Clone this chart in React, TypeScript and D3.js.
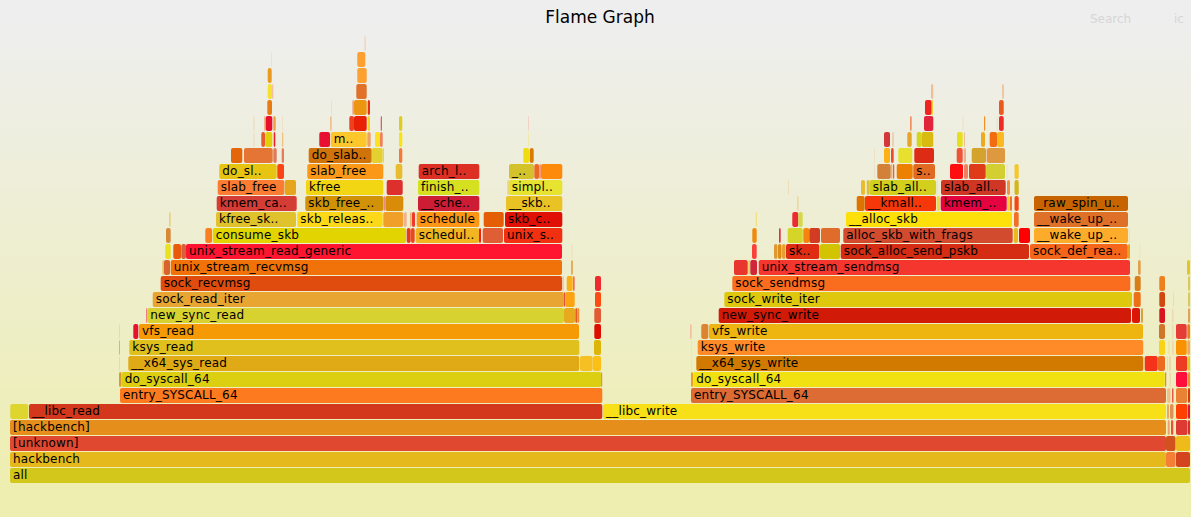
import React, { useEffect, useRef } from "react";
import * as d3 from "d3";

// [name, first sample, sample count]
type Frame = [string, number, number];

const totalSamples = 1180;

const depth0: Frame[] = [["all", 0, 1180]];
const depth1: Frame[] = [["hackbench", 0, 1156], ["", 1156, 9.5], ["", 1166, 14]];
const depth2: Frame[] = [["[unknown]", 0, 1156], ["", 1156, 9.5], ["", 1166, 14]];
const depth3: Frame[] = [["[hackbench]", 0, 1156], ["", 1157.7, 2], ["", 1161, 2.3], ["", 1166, 11.5], ["", 1178, 2]];
const depth4: Frame[] = [["", 0.3, 18], ["__libc_read", 19, 573.3], ["__libc_write", 593, 563], ["", 1157, 2], ["", 1160, 3.5], ["", 1166, 11.5], ["", 1178, 2]];
const depth5: Frame[] = [["entry_SYSCALL_64", 110, 482.3], ["entry_SYSCALL_64", 681, 475], ["", 1157, 3.5], ["", 1162, 1.5], ["", 1166, 11.3], ["", 1178, 2]];
const depth6: Frame[] = [["", 109, 2.5], ["do_syscall_64", 111.7, 479.5], ["", 591, 1.2], ["", 681, 2], ["do_syscall_64", 683.3, 471.5], ["", 1155.2, 1], ["", 1159.5, 1.5], ["", 1166, 11.3], ["", 1178, 2]];
const depth7: Frame[] = [["", 109, 1], ["__x64_sys_read", 118.3, 451], ["", 570, 12.7], ["", 583, 8], ["", 681, 1], ["__x64_sys_write", 686.3, 447], ["", 1134.7, 13], ["", 1148, 7], ["", 1157, 1], ["", 1159.5, 1], ["", 1166, 11.3], ["", 1178, 2]];
const depth8: Frame[] = [["", 109, 1], ["ksys_read", 119.3, 450], ["", 584, 7], ["", 681, 1], ["ksys_write", 687.7, 445.5], ["", 1149, 6], ["", 1158.5, 1], ["", 1162.5, 0.8], ["", 1166, 10.7], ["", 1177.3, 2.7]];
const depth9: Frame[] = [["", 109, 0.8], ["", 123.3, 5], ["vfs_read", 129, 440], ["", 584.3, 6.7], ["", 680, 1.7], ["", 691.3, 7], ["vfs_write", 699, 434], ["", 1149, 6], ["", 1162.5, 0.8], ["", 1166, 10.7], ["", 1177.3, 2.7]];
const depth10: Frame[] = [["", 136, 1.3], ["new_sync_read", 137.3, 416.7], ["", 554, 11], ["", 565.3, 2], ["", 567.3, 2], ["", 584.3, 6.7], ["new_sync_write", 708.7, 412.3], ["", 1122, 8], ["", 1131, 2], ["", 1149.3, 5.7], ["", 1162.5, 0.8], ["", 1178, 2]];
const depth11: Frame[] = [["sock_read_iter", 142.7, 411.3], ["", 554, 1.3], ["", 555.3, 9.4], ["", 585, 6], ["sock_write_iter", 714.3, 407.7], ["", 1123.7, 7], ["", 1149.3, 5.7], ["", 1163, 0.8], ["", 1178, 2]];
const depth12: Frame[] = [["sock_recvmsg", 150.7, 401.3], ["", 552.3, 1.5], ["", 556.7, 6], ["", 563, 1.7], ["", 585, 6], ["sock_sendmsg", 722.3, 398], ["", 1124.7, 6], ["", 1149.3, 5.7], ["", 1178, 2]];
const depth13: Frame[] = [["", 152.3, 1.7], ["", 154, 6], ["unix_stream_recvmsg", 160.7, 391.3], ["", 561, 2], ["", 724, 13.7], ["", 738.3, 1.7], ["", 740.3, 6.7], ["unix_stream_sendmsg", 748.7, 371.3], ["", 1128, 2.7], ["", 1177, 3]];
const depth14: Frame[] = [["", 155.3, 5.4], ["", 163.3, 7.7], ["", 171.3, 4.7], ["unix_stream_read_generic", 176, 376], ["", 561.5, 0.8], ["", 742, 4.7], ["", 764, 3.5], ["", 768, 3.5], ["", 772, 3.5], ["sk..", 776, 33.3], ["", 810, 20], ["sock_alloc_send_pskb", 830.7, 188.3], ["sock_def_rea..", 1020, 97.7], ["", 1118, 2], ["", 1129.5, 0.8]];
const depth15: Frame[] = [["", 156, 4.7], ["", 195.3, 6.7], ["consume_skb", 202.7, 193.3], ["", 396.7, 4], ["", 401, 3.7], ["schedul..", 405.7, 63.3], ["", 469, 2], ["", 472.7, 20.3], ["unix_s..", 494, 58.3], ["", 742.3, 4.4], ["", 769, 1.7], ["", 777.7, 15], ["", 793.3, 6], ["", 799.3, 10.7], ["", 811, 19], ["alloc_skb_with_frags", 833.3, 169.4], ["", 1003.7, 4.3], ["", 1009, 11], ["__wake_up_..", 1024, 94], ["", 1118.7, 1]];
const depth16: Frame[] = [["", 159, 1.7], ["kfree_sk..", 206, 80], ["skb_releas..", 287.3, 85.4], ["", 373.3, 20], ["", 394, 2.7], ["", 400, 1.7], ["", 402, 3], ["schedule", 406.7, 62.6], ["", 473.7, 20], ["skb_c..", 495, 57.3], ["", 745.7, 1.3], ["", 782.3, 6], ["", 788.3, 4.4], ["__alloc_skb", 836, 166], ["", 1004, 4.7], ["__wake_up_..", 1024, 94]];
const depth17: Frame[] = [["kmem_ca..", 206.7, 80], ["skb_free_..", 295.3, 78], ["", 373.7, 1], ["", 375.3, 18], ["__sche..", 408, 61.3], ["__skb..", 496, 56.3], ["", 787, 1.7], ["", 846.7, 8], ["__kmall..", 855, 71], ["", 926.7, 3.3], ["kmem_..", 930.7, 66], ["", 997, 3], ["", 1000, 2], ["", 1004.5, 4.2], ["_raw_spin_u..", 1024, 94]];
const depth18: Frame[] = [["slab_free", 207.7, 66.6], ["", 274.7, 11.3], ["kfree", 296, 77.3], ["", 376.7, 16], ["finish_..", 408, 61.3], ["", 497.5, 1.2], ["simpl..", 498.7, 53.6], ["", 778, 0.8], ["", 851, 4], ["", 856.7, 3], ["slab_all..", 859.7, 66.3], ["", 926.7, 0.8], ["slab_all..", 931, 64.7], ["", 997, 3], ["", 1004.5, 4.2]];
const depth19: Frame[] = [["do_sl..", 209.3, 57.4], ["", 267.3, 6.7], ["slab_free", 297.3, 76], ["", 385.7, 6.6], ["arch_l..", 408.7, 60.6], ["_..", 499, 25], ["", 524.3, 4.7], ["", 529.3, 1.5], ["", 531, 21.3], ["", 864, 0.8], ["", 867.3, 13.4], ["", 881, 1.5], ["", 883, 1.3], ["", 886.7, 16], ["s..", 903.3, 21.7], ["", 940, 13], ["", 954, 4], ["", 959, 16.7], ["", 976, 19], ["", 996.7, 0.7], ["", 1004.5, 4.2]];
const depth20: Frame[] = [["", 221, 11.3], ["", 234, 28.7], ["", 263.3, 3.4], ["", 271.7, 2.3], ["do_slab..", 298.7, 63], ["", 361.7, 11], ["", 373, 1], ["", 389, 3.3], ["", 513.3, 5.7], ["", 519.7, 4], ["", 864, 0.8], ["", 874, 6], ["", 881, 2.7], ["", 888.3, 14], ["", 904.3, 19.7], ["", 946.7, 6], ["", 953.7, 2.3], ["", 961.7, 14.3], ["", 976.2, 0.8], ["", 977, 18]];
const depth21: Frame[] = [["", 243.3, 1.3], ["", 251.3, 3.7], ["", 255.3, 7], ["", 263.7, 1.6], ["", 272, 1.3], ["", 309.3, 10.7], ["m..", 320.7, 36], ["", 357.3, 3.4], ["", 365, 5], ["", 370, 2.7], ["", 389, 3.3], ["", 518, 0.8], ["", 874, 6], ["", 882.5, 1], ["", 897.3, 4.4], ["", 906.7, 5], ["", 911.7, 11.6], ["", 923.3, 0.8], ["", 947, 5.7], ["", 954, 0.8], ["", 971, 4], ["", 979.7, 7.3], ["", 987, 7]];
const depth22: Frame[] = [["", 243.3, 1.3], ["", 254.3, 1.2], ["", 255.7, 6.6], ["", 263.3, 2.4], ["", 272, 0.8], ["", 320, 1.7], ["", 339.3, 4.7], ["", 344, 12.7], ["", 357.7, 2.3], ["", 370.7, 1.3], ["", 389, 3.3], ["", 518, 0.8], ["", 900, 1.7], ["", 914, 9.3], ["", 952.7, 0.8], ["", 974, 1.2], ["", 986.7, 0.8], ["", 989, 4.7]];
const depth23: Frame[] = [["", 257.3, 4.7], ["", 321, 0.8], ["", 342.3, 1.7], ["", 344, 12.7], ["", 357.7, 2.3], ["", 915, 6.7], ["", 921.7, 1.3], ["", 989, 4.7]];
const depth24: Frame[] = [["", 257.7, 4.3], ["", 262, 1.3], ["", 346.3, 10.4], ["", 921, 2.3], ["", 992, 2]];
const depth25: Frame[] = [["", 257.7, 4], ["", 347.3, 9.4]];
const depth26: Frame[] = [["", 261, 0.8], ["", 347.3, 8]];
const depth27: Frame[] = [["", 354.3, 1.7]];

const depth0Colors = ["#d4c71c"];
const depth1Colors = ["#e5b91c", "#f57f35", "#d4451f"];
const depth2Colors = ["#e04830", "#d2521e", "#eebb1a"];
const depth3Colors = ["#e68e1c", "#f0a070", "#e85040", "#dd3a33", "#dd2a30"];
const depth4Colors = ["#dfd52f", "#d4381c", "#f8e018", "#e8a860", "#e09050", "#ff4000", "#d81840"];
const depth5Colors = ["#fe7a1e", "#dc6b34", "#eec090", "#e85a40", "#e98235", "#d43a10"];
const depth6Colors = ["#d99a30", "#dcce10", "#e0905a", "#f09a20", "#f2e112", "#e8604a", "#f0d8b0", "#ff0f3b", "#f09030"];
const depth7Colors = ["#eedd90", "#e0aa16", "#f6c024", "#fbbf16", "#ede8b0", "#d27a00", "#f5331a", "#ec6c1f", "#eedc90", "#ecc090", "#ee3c24", "#e0c820"];
const depth8Colors = ["#eeb060", "#dfc01c", "#dcb50a", "#ece8a8", "#ff8a28", "#fad216", "#eedc90", "#ecc090", "#fa9100", "#f0a860"];
const depth9Colors = ["#ecdc70", "#e81030", "#f59a05", "#dd1000", "#f2c0a0", "#dc8430", "#eeb511", "#d0762a", "#ecc8a0", "#e53c36", "#f07a20"];
const depth10Colors = ["#f08080", "#d8d231", "#e7aa1f", "#e85a2a", "#f09030", "#e05c36", "#d21a08", "#dc1505", "#d8a040", "#d8151e", "#ecc8a0", "#e0a060"];
const depth11Colors = ["#e8a532", "#e85040", "#fba312", "#fb4c14", "#dfc70e", "#ec7015", "#d1480f", "#ecd8b0", "#d8c860"];
const depth12Colors = ["#e04c0e", "#eec0a0", "#fbaf18", "#ee7060", "#ee2a2e", "#fa6c1e", "#d87f1c", "#ed7f1e", "#d8c860"];
const depth13Colors = ["#eec060", "#d8642c", "#f07208", "#e0b060", "#e8352e", "#e8d040", "#cf2639", "#f5362e", "#e0a050", "#e0c820"];
const depth14Colors = ["#e8e020", "#e95a0a", "#d8603a", "#ff1530", "#eed8b0", "#f8433a", "#dc9a30", "#e08a18", "#e8a030", "#e12c14", "#d2c400", "#d42d14", "#f5651a", "#e8a020", "#f0e0b0"];
const depth15Colors = ["#d68a38", "#fa7f20", "#e2d400", "#e8381e", "#e84a1e", "#f0b520", "#f02010", "#e05e35", "#f03010", "#ee8a10", "#e03040", "#d4d429", "#f68510", "#d23c22", "#df6c2a", "#d34b2e", "#e8b81c", "#ff0000", "#fdab2b", "#f0e0a0"];
const depth16Colors = ["#ead080", "#e0c22c", "#fdd818", "#f09f28", "#f0b090", "#e8b070", "#ee3a2a", "#fc9614", "#e45e06", "#e01006", "#f0e080", "#ec2a32", "#d4d84a", "#fddf0a", "#f0702a", "#df7027"];
const depth17Colors = ["#d43d35", "#d19207", "#e06060", "#d98c08", "#cc1d35", "#e9c224", "#ecd8a0", "#dd7300", "#f6370a", "#e8dc40", "#e4023f", "#f0d030", "#f07030", "#f54714", "#c86400"];
const depth18Colors = ["#fb7c33", "#e5a61e", "#f2d614", "#dd2f2c", "#d4e020", "#f0c080", "#e6e430", "#ecd8b0", "#e8bb30", "#d8c040", "#d2d01c", "#ecd8b0", "#cf3624", "#f09040", "#d5b51a"];
const depth19Colors = ["#e7c411", "#fb4414", "#fb9818", "#e8bc2c", "#dc3025", "#d4c22c", "#eb6a20", "#f08060", "#fd8a0a", "#eedcc0", "#d28238", "#f0b080", "#e86040", "#ee8000", "#e06a22", "#ff1010", "#f08060", "#df3b18", "#d3cf33", "#ecdcc0", "#f5c82a"];
const depth20Colors = ["#e5650a", "#e57535", "#e0785a", "#e97b5a", "#cf730a", "#e4d030", "#eec0a0", "#f47a36", "#f0da10", "#d97a05", "#eedcc0", "#fbb116", "#ed4b2d", "#e8e02e", "#dc2c16", "#ed5539", "#f0b090", "#d3a32e", "#eec0a0", "#de9940"];
const depth21Colors = ["#eedcc0", "#e85a30", "#e2cf0a", "#f02030", "#f0c080", "#e90f30", "#fdc72c", "#f0a060", "#fce21e", "#f0805a", "#f8e410", "#f0e8a0", "#d2383a", "#f0b090", "#e6a526", "#d5d520", "#d8ba10", "#eedcc0", "#e6e01c", "#f0b090", "#eeaa1f", "#f26c10", "#fbb81f"];
const depth22Colors = ["#eedcc0", "#f0a070", "#e8102a", "#e8a040", "#eedcc0", "#ecc090", "#ef4020", "#e82005", "#f0d020", "#e05a7a", "#decc20", "#f0c8c0", "#ee9060", "#e0243a", "#eedcc0", "#f09020", "#eedcc0", "#ee2a26"];
const depth23Colors = ["#e87c10", "#eedcc0", "#f0a090", "#ec9510", "#e83010", "#f0241e", "#e8d030", "#eb5a1c"];
const depth24Colors = ["#f6e030", "#f0c0a0", "#e0702a", "#ecc090", "#ecc8a0"];
const depth25Colors = ["#eb9a20", "#fca030"];
const depth26Colors = ["#eedcc0", "#fca030"];
const depth27Colors = ["#eed8c8"];

const frameDepths = [
  depth0, depth1, depth2, depth3, depth4, depth5, depth6, depth7, depth8, depth9,
  depth10, depth11, depth12, depth13, depth14, depth15, depth16, depth17, depth18, depth19,
  depth20, depth21, depth22, depth23, depth24, depth25, depth26, depth27,
];
const colorDepths = [
  depth0Colors, depth1Colors, depth2Colors, depth3Colors, depth4Colors, depth5Colors, depth6Colors,
  depth7Colors, depth8Colors, depth9Colors, depth10Colors, depth11Colors, depth12Colors, depth13Colors,
  depth14Colors, depth15Colors, depth16Colors, depth17Colors, depth18Colors, depth19Colors, depth20Colors,
  depth21Colors, depth22Colors, depth23Colors, depth24Colors, depth25Colors, depth26Colors, depth27Colors,
];

const width = 1191;
const height = 517;
const fontFamily = "'DejaVu Sans', Verdana, sans-serif";

export default function App() {
  const gFrames = useRef<SVGGElement>(null);

  useEffect(() => {
    if (!gFrames.current) return;

    const x = d3.scaleLinear().domain([0, totalSamples]).range([10, 1190]);
    const y = d3.scaleLinear().domain([0, 27]).range([468, 36]);

    const frames = frameDepths.flatMap((row, depth) =>
      row.map(([name, start, samples], i) => ({
        name,
        start,
        samples,
        depth,
        color: colorDepths[depth][i],
      }))
    );

    const g = d3.select(gFrames.current);

    g.selectAll("rect")
      .data(frames)
      .join("rect")
      .attr("x", (d) => x(d.start))
      .attr("y", (d) => y(d.depth))
      .attr("width", (d) => x(d.start + d.samples) - x(d.start))
      .attr("height", 15)
      .attr("rx", 2)
      .attr("ry", 2)
      .attr("fill", (d) => d.color);

    g.selectAll("text")
      .data(frames.filter((d) => d.name))
      .join("text")
      .attr("x", (d) => x(d.start) + 3)
      .attr("y", (d) => y(d.depth) + 11)
      .attr("font-size", 12)
      .attr("letter-spacing", 0.2)
      .attr("font-family", fontFamily)
      .attr("fill", "#000")
      .text((d) => d.name);
  }, []);

  return (
    <svg
      width={width}
      height={height}
      style={{ position: "absolute", left: 0, top: 0, display: "block" }}
    >
      <defs>
        <linearGradient id="background" x1="0" y1="0" x2="0" y2="1">
          <stop offset="5%" stopColor="#eeeeee" />
          <stop offset="95%" stopColor="#eeeeb0" />
        </linearGradient>
      </defs>
      <rect width={width} height={height} fill="url(#background)" />
      <text
        x={600}
        y={23}
        textAnchor="middle"
        fontSize={17}
        fontFamily={fontFamily}
        fill="#000"
      >
        Flame Graph
      </text>
      <text x={1090} y={23} fontSize={12} fontFamily={fontFamily} fill="#a0a0a0" opacity={0.3}>
        Search
      </text>
      <text x={1174} y={23} fontSize={12} fontFamily={fontFamily} fill="#a0a0a0" opacity={0.3}>
        ic
      </text>
      <g ref={gFrames}></g>
    </svg>
  );
}
